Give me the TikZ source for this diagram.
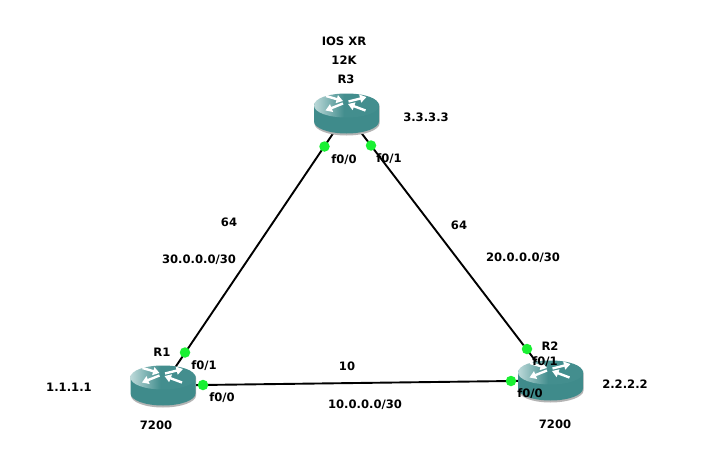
\documentclass[tikz,border=0pt]{standalone}
\usepackage{fontspec}
\setmainfont{DejaVu Sans}
\usetikzlibrary{arrows.meta}
\definecolor{rbody}{HTML}{3F8B8B}
\definecolor{rtop}{HTML}{438E8E}
\definecolor{rlight}{HTML}{BCD9D9}
\definecolor{rshadow}{HTML}{B4B4B4}
\definecolor{portgreen}{HTML}{19F032}
\pgfdeclarehorizontalshading{rshade}{100bp}{color(0bp)=(rlight); color(25bp)=(rlight); color(48bp)=(rtop); color(100bp)=(rtop)}
\tikzset{
  x=1pt,y=-1pt,
  lbl/.style={font=\bfseries\fontsize{11.6}{13}\selectfont,inner sep=0pt,text=black},
  portdot/.style={circle,fill=portgreen,draw=none,minimum size=10.5pt,inner sep=0pt},
  routerbox/.style={minimum width=65pt,minimum height=43pt,inner sep=0pt},
  link/.style={draw=black,line width=1.9pt},
  rarrow/.style={draw=white,line width=2.4pt,-{Triangle[length=6.5pt,width=8pt]}},
}
\newcommand{\routerart}[1]{%
  \begin{scope}[shift={(#1)}]
    \fill[rshadow] (-32,-8) -- (-32,10) .. controls (-32,16.6) and (-18,22) .. (0,22) .. controls (18,22) and (33,16.6) .. (33,10) -- (33,-8) -- cycle;
    \fill[rbody] (-32.5,-10) -- (-32.5,8) .. controls (-32.5,14.6) and (-18,20) .. (0,20) .. controls (18,20) and (32.5,14.6) .. (32.5,8) -- (32.5,-10) -- cycle;
    \shade[shading=rshade] (-32.5,-8) .. controls (-32.5,-15.2) and (-18,-20) .. (0,-20) .. controls (18,-20) and (32.5,-15.2) .. (32.5,-8) .. controls (32.5,-1) and (18,4) .. (0,4) .. controls (-18,4) and (-32.5,-1) .. (-32.5,-8) -- cycle;
    \draw[rarrow] (-20.5,-17.5) -- (-3.5,-12.5);
    \draw[rarrow] (2,-12) -- (20,-16.5);
    \draw[rarrow] (-3.5,-10) -- (-21,-3);
    \draw[rarrow] (19,-3) -- (1.5,-9.5);
  \end{scope}}
\begin{document}
\begin{tikzpicture}
\useasboundingbox (0,0) rectangle (721,471);
\fill[white] (0,0) rectangle (721,471);
\node[routerbox] (R3) at (346.5,113.5) {};
\node[routerbox] (R1) at (163,385.5) {};
\node[routerbox] (R2) at (550.5,380.5) {};
\draw[link] (R1.center) -- (R3.center);
\draw[link] (R2.center) -- (R3.center);
\draw[link] (R1.center) -- (R2.center);
\routerart{346.5,113.5}
\routerart{163,385.5}
\routerart{550.5,380.5}
\node[portdot] (p30) at (324.5,146.5) {};
\node[portdot] (p31) at (371,145.5) {};
\node[portdot] (p11) at (185,352.5) {};
\node[portdot] (p10) at (203,385) {};
\node[portdot] (p21) at (527,349) {};
\node[portdot] (p20) at (511,381) {};
\node[lbl] (t1) at (344,41) {IOS XR};
\node[lbl] (t2) at (344,60) {12K};
\node[lbl] (t3) at (346,79) {R3};
\node[lbl] (t4) at (426,117) {3.3.3.3};
\node[lbl] (t5) at (344,159.5) {f0/0};
\node[lbl] (t6) at (389,158.5) {f0/1};
\node[lbl] (t7) at (229,222) {64};
\node[lbl] (t8) at (199,260) {30.0.0.0/30};
\node[lbl] (t9) at (459,225) {64};
\node[lbl] (t10) at (523,258) {20.0.0.0/30};
\node[lbl] (t11) at (550,346.5) {R2};
\node[lbl] (t12) at (545,361.5) {f0/1};
\node[lbl] (t13) at (625,384) {2.2.2.2};
\node[lbl] (t14) at (530,393.5) {f0/0};
\node[lbl] (t15) at (555,424) {7200};
\node[lbl] (t16) at (162,352) {R1};
\node[lbl] (t17) at (204,365.5) {f0/1};
\node[lbl] (t18) at (69,387) {1.1.1.1};
\node[lbl] (t19) at (222,397.5) {f0/0};
\node[lbl] (t20) at (156,425.5) {7200};
\node[lbl] (t21) at (347,366) {10};
\node[lbl] (t22) at (365,405) {10.0.0.0/30};
\end{tikzpicture}
\end{document}
